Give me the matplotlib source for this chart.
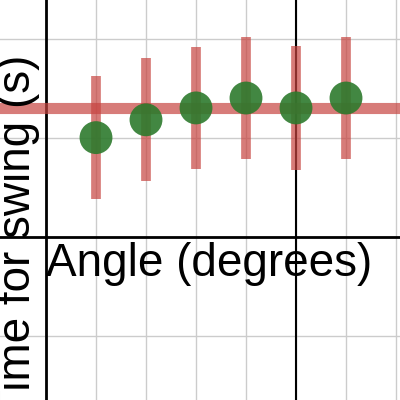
import matplotlib
matplotlib.use("Agg")
import matplotlib.pyplot as plt

angles = [1, 2, 3, 4, 5, 6]
times = [1.00, 1.18, 1.30, 1.40, 1.30, 1.40]
errors = [0.62, 0.62, 0.62, 0.62, 0.63, 0.62]
mean_time = 1.30

fig = plt.figure(figsize=(4, 4), dpi=100)
ax = fig.add_axes([0, 0, 1, 1])
ax.set_xlim(-0.92, 7.08)
ax.set_ylim(-1.65, 2.39)
ax.axis("off")
for gx in range(-1, 8):
    ax.axvline(gx, color="#cccccc", lw=1, zorder=0)
for gy in [-1, 0, 1, 2]:
    ax.axhline(gy, color="#cccccc", lw=1, zorder=0)
ax.axvline(0, color="black", lw=2, zorder=1)
ax.axvline(5, color="black", lw=1.5, zorder=1)
ax.axhline(0, color="black", lw=2, zorder=1)

ax.axhline(mean_time, color="#c74440", alpha=0.7, lw=8, zorder=2)
ax.errorbar(angles, times, yerr=errors, fmt="none", ecolor="#c74440", alpha=0.7, elinewidth=7, zorder=3)
ax.scatter(angles, times, s=560, color="#2d7a2d", alpha=0.9, zorder=4, edgecolors="none")

ax.text(0.0, -0.05, "Angle (degrees)", fontsize=33, family="Liberation Sans", va="top", ha="left")
ax.text(-0.55, -1.82, "Time for swing (s)", fontsize=33, family="Liberation Sans", rotation=90, va="bottom", ha="center")
fig.savefig("out.png", dpi=100)
